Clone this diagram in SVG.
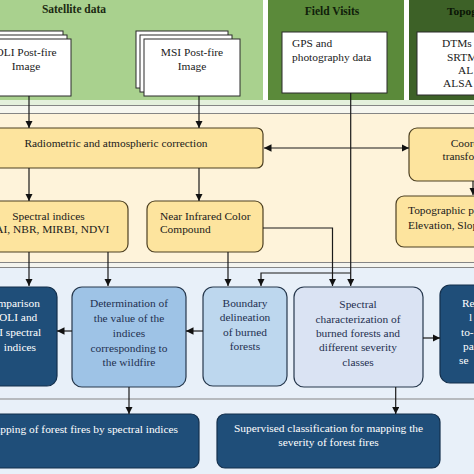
<svg xmlns="http://www.w3.org/2000/svg" width="474" height="474" viewBox="0 0 474 474">
<defs>
<marker id="ah" viewBox="0 0 10 10" refX="10" refY="5" markerWidth="7.5" markerHeight="7.5" markerUnits="userSpaceOnUse" orient="auto-start-reverse">
<path d="M0,0 L10,5 L0,10 Z" fill="#111"/>
</marker>
<style>
text{font-family:"Liberation Serif","Times New Roman",serif;font-size:11.4px;}
.t{font-weight:bold;font-size:11.5px;text-anchor:middle;}
.c{text-anchor:middle;}
.wbox{fill:#fff;stroke:#2b2b2b;stroke-width:1;}
.ybox{fill:#fde49e;stroke:#4d4022;stroke-width:1.2;}
.dbox{fill:#1f4e79;stroke:#132f4c;stroke-width:1.2;}
.mbox{fill:#9ec3e6;stroke:#26384d;stroke-width:1.2;}
.lbox{fill:#bdd7ee;stroke:#26384d;stroke-width:1.2;}
.pbox{fill:#dae3f3;stroke:#26384d;stroke-width:1.2;}
.wt{fill:#fff;}
.nt{fill:#1f3050;}
.dt{fill:#1a1a1a;}
.sep{stroke:#858585;stroke-width:1;}
.con{fill:none;stroke:#1a1a1a;stroke-width:1.2;}
</style>
</defs>
<rect x="0" y="0" width="474" height="474" fill="#fff"/>
<!-- top panels -->
<g id="panel-satellite">
<rect x="0" y="0" width="263" height="100" fill="#a9d18e"/>
<text class="t" x="74" y="13" fill="#1c2a12">Satellite data</text>
</g>
<g id="panel-field">
<rect x="268" y="0" width="136" height="100" fill="#5b8a3a"/>
<text class="t" x="332" y="15" fill="#10200a">Field Visits</text>
</g>
<g id="panel-topo">
<rect x="409" y="0" width="65" height="100" fill="#3d6127"/>
<text x="447" y="15" font-weight="bold" font-size="11.5" fill="#0a1405">Topography</text>
</g>
<!-- band separators -->
<rect x="0" y="100" width="474" height="5" fill="#e4f0dc"/>
<rect x="0" y="106" width="474" height="8" fill="#f6f6ef"/>
<line class="sep" x1="0" y1="105.5" x2="474" y2="105.5"/>
<line class="sep" x1="0" y1="113.5" x2="474" y2="113.5"/>
<rect x="0" y="114" width="474" height="148" fill="#fef3da"/>
<rect x="0" y="263" width="474" height="4" fill="#f4f4ee"/>
<line class="sep" x1="0" y1="262.5" x2="474" y2="262.5"/>
<line class="sep" x1="0" y1="267.5" x2="474" y2="267.5"/>
<rect x="0" y="268" width="474" height="206" fill="#e8f0f9"/>
<line class="sep" x1="0" y1="399" x2="474" y2="399"/>
<!-- nodes -->
<g id="oli">
<rect class="wbox" x="-27" y="31" width="90" height="57"/>
<rect class="wbox" x="-23" y="35" width="90" height="57"/>
<rect class="wbox" x="-19" y="39" width="90" height="57"/>
<text class="c dt" x="26" y="56">OLI Post-fire</text>
<text class="c dt" x="26" y="70">Image</text>
</g>
<g id="msi">
<rect class="wbox" x="136" y="31" width="92" height="57"/>
<rect class="wbox" x="140" y="35" width="92" height="57"/>
<rect class="wbox" x="144" y="39" width="96" height="57"/>
<text class="c dt" x="192" y="56">MSI Post-fire</text>
<text class="c dt" x="192" y="70">Image</text>
</g>
<g id="gps">
<rect class="wbox" x="282" y="32" width="105" height="61"/>
<text class="dt" x="292" y="47">GPS and</text>
<text class="dt" x="292" y="61">photography data</text>
</g>
<g id="dtms">
<rect class="wbox" x="417" y="32" width="70" height="63"/>
<text class="dt" x="442" y="47">DTMs</text>
<text class="dt" x="447" y="61">SRTM</text>
<text class="dt" x="458" y="74">AL</text>
<text class="dt" x="443" y="87">ALSA</text>
</g>
<g id="radiometric">
<rect class="ybox" x="-20" y="128" width="283" height="40" rx="6"/>
<text class="c dt" x="116" y="147">Radiometric and atmospheric correction</text>
</g>
<g id="spectral-indices">
<rect class="ybox" x="-31" y="201" width="159" height="51" rx="8"/>
<text class="c dt" x="48.5" y="220">Spectral indices</text>
<text class="c dt" x="48.5" y="233">BAI, NBR, MIRBI, NDVI</text>
</g>
<g id="nir">
<rect class="ybox" x="147" y="201" width="116" height="51" rx="8"/>
<text class="dt" x="160" y="220">Near Infrared Color</text>
<text class="dt" x="160" y="233">Compound</text>
</g>
<g id="coordinate">
<rect class="ybox" x="409" y="128" width="90" height="53" rx="8"/>
<text class="c dt" x="476" y="147">Coordinate</text>
<text class="c dt" x="476" y="160">transformation</text>
</g>
<g id="topographic">
<rect class="ybox" x="396" y="196" width="100" height="51" rx="8"/>
<text class="dt" x="408" y="214">Topographic parameters</text>
<text class="dt" x="408" y="229">Elevation, Slope</text>
</g>
<g id="comparison">
<rect class="dbox" x="-40" y="287" width="97" height="99" rx="10"/>
<text class="c wt" x="12" y="307">Comparison</text>
<text class="c wt" x="12" y="321">of OLI and</text>
<text class="c wt" x="12" y="336">MSI spectral</text>
<text class="wt" x="36" y="351" text-anchor="end">indices</text>
</g>
<g id="determination">
<rect class="mbox" x="72" y="287" width="114" height="100" rx="10"/>
<text class="c nt" x="129" y="307">Determination of</text>
<text class="c nt" x="129" y="322">the value of the</text>
<text class="c nt" x="129" y="337">indices</text>
<text class="c nt" x="129" y="352">corresponding to</text>
<text class="c nt" x="129" y="366">the wildfire</text>
</g>
<g id="boundary">
<rect class="lbox" x="203" y="287" width="84" height="99" rx="10"/>
<text class="c nt" x="245" y="307">Boundary</text>
<text class="c nt" x="245" y="321">delineation</text>
<text class="c nt" x="245" y="336">of burned</text>
<text class="c nt" x="245" y="350">forests</text>
</g>
<g id="spectral-char">
<rect class="pbox" x="294" y="287" width="129" height="100" rx="10"/>
<text class="c nt" x="358" y="308">Spectral</text>
<text class="c nt" x="358" y="323">characterization of</text>
<text class="c nt" x="358" y="337">burned forests and</text>
<text class="c nt" x="358" y="351">different severity</text>
<text class="c nt" x="358" y="366">classes</text>
</g>
<g id="right-box">
<rect class="dbox" x="440" y="285" width="60" height="98" rx="10"/>
<text class="wt" x="462" y="307">Re</text>
<text class="wt" x="469" y="321">l</text>
<text class="wt" x="461" y="336">to-</text>
<text class="wt" x="463" y="350">pa</text>
<text class="wt" x="459" y="364">se</text>
</g>
<g id="mapping">
<rect class="dbox" x="-36" y="414" width="235" height="54" rx="8"/>
<text class="c wt" x="81.5" y="433">Mapping of forest fires by spectral indices</text>
</g>
<g id="supervised">
<rect class="dbox" x="217" y="414" width="223" height="54" rx="8"/>
<text class="c wt" x="328.5" y="432">Supervised classification for mapping the</text>
<text class="c wt" x="328.5" y="446">severity of forest fires</text>
</g>
<!-- connectors -->
<g id="connectors">
<path class="con" d="M29 96 V128" marker-end="url(#ah)"/>
<path class="con" d="M199 96 V128" marker-end="url(#ah)"/>
<path class="con" d="M350.7 93 V286" marker-end="url(#ah)"/>
<path class="con" d="M264 148 H409" marker-start="url(#ah)" marker-end="url(#ah)"/>
<path class="con" d="M29 168 V201" marker-end="url(#ah)"/>
<path class="con" d="M199 168 V201" marker-end="url(#ah)"/>
<path class="con" d="M29 252 V286" marker-end="url(#ah)"/>
<path class="con" d="M108 252 V286" marker-end="url(#ah)"/>
<path class="con" d="M228 252 V286" marker-end="url(#ah)"/>
<path class="con" d="M263 228 H332.5 V286" marker-end="url(#ah)"/>
<path class="con" d="M350.7 273 H261 V286" marker-end="url(#ah)"/>
<path class="con" d="M203 331 H186" marker-end="url(#ah)"/>
<path class="con" d="M72 331 H57" marker-end="url(#ah)"/>
<path class="con" d="M423 338 H440" marker-end="url(#ah)"/>
<path class="con" d="M129 387 V414" marker-end="url(#ah)"/>
<path class="con" d="M395.7 387 V414" marker-end="url(#ah)"/>
<path class="con" d="M473 181 V195" marker-end="url(#ah)"/>
</g>
</svg>
